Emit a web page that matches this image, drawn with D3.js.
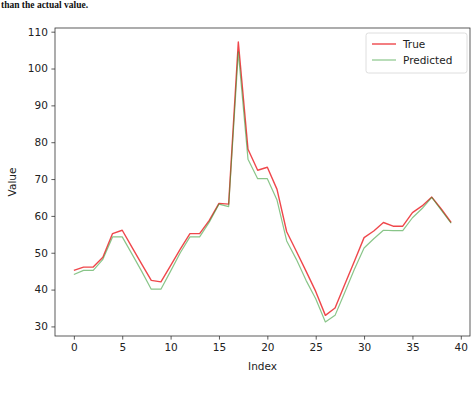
<!DOCTYPE html>
<html><head><meta charset="utf-8">
<script src="https://cdn.jsdelivr.net/npm/d3@7"></script>
<style>
html,body{margin:0;padding:0;background:#fff;}
svg{display:block;}
text{font-family:"DejaVu Sans",sans-serif;fill:#222;}
</style></head>
<body>
<svg id="chart" width="474" height="395"></svg>
<script>
const trueValues = [45.2, 46.1, 46.1, 48.8, 55.2, 56.1, 51.5, 47, 42.5, 42.1, 46.5, 51, 55.2, 55.2, 58.8, 63.4, 63.2, 107.2, 78.1, 72.4, 73.2, 67.2, 55.7, 50.4, 45, 39.5, 33, 35, 41.4, 47.7, 54.1, 55.9, 58.2, 57.2, 57.2, 60.9, 62.7, 65.1, 61.8, 58.2];
const predValues = [44.1, 45.2, 45.2, 48.2, 54.3, 54.3, 49.7, 45, 40.1, 40.1, 45, 50, 54.3, 54.3, 58.3, 63.2, 62.5, 104.5, 75.4, 70.1, 70.1, 64.3, 53.2, 48.2, 42.5, 37.5, 31.2, 33, 39.2, 45.5, 51.3, 53.8, 56.1, 56, 56, 59.5, 62, 65, 61.5, 58];
const xTicks = [0, 5, 10, 15, 20, 25, 30, 35, 40];
const yTicks = [30, 40, 50, 60, 70, 80, 90, 100, 110];
const seriesNames = ["True", "Predicted"];
const seriesColors = ["rgba(235,30,35,0.82)", "rgba(40,150,40,0.55)"];

const svg = d3.select("#chart");
const L = 55, R = 470, T = 28, B = 336;
const n = trueValues.length;
const x = d3.scaleLinear().domain([-0.05*(n-1), (n-1)*1.05]).range([L, R]);
const all = trueValues.concat(predValues);
const lo = d3.min(all), hi = d3.max(all), pad = (hi-lo)*0.05;
const y = d3.scaleLinear().domain([lo-pad, hi+pad]).range([B, T]);

// caption fragment at top (clipped in the source image)
svg.append("text").attr("x", 1).attr("y", 8)
  .style("font-family", "'Liberation Serif','DejaVu Serif',serif")
  .style("font-weight", "bold").style("font-size", "9.5px").style("fill", "#111")
  .text("than the actual value.");

const xAxis = d3.axisBottom(x).tickValues(xTicks).tickSize(3.6).tickPadding(3.5).tickFormat(d3.format("d"));
const yAxis = d3.axisLeft(y).tickValues(yTicks).tickSize(3.6).tickPadding(3.5).tickFormat(d3.format("d"));

const gx = svg.append("g").attr("transform", `translate(0,${B})`).call(xAxis);
const gy = svg.append("g").attr("transform", `translate(${L},0)`).call(yAxis);
[gx, gy].forEach(g => {
  g.select(".domain").remove();
  g.selectAll("line").attr("stroke", "#333").attr("stroke-width", 0.8);
  g.selectAll("text").style("font-size", "10.5px").style("fill", "#222").style("font-family", "'DejaVu Sans',sans-serif");
});

svg.append("rect").attr("x", L).attr("y", T).attr("width", R-L).attr("height", B-T)
  .attr("fill", "none").attr("stroke", "#333").attr("stroke-width", 0.8);

const line = d3.line().x((d,i) => x(i)).y(d => y(d));
[trueValues, predValues].forEach((vals, k) => {
  svg.append("path").datum(vals).attr("d", line).attr("fill", "none")
    .attr("stroke", seriesColors[k]).attr("stroke-width", k === 0 ? 1.4 : 1.2)
    .attr("stroke-linejoin", "round");
});

svg.append("text").attr("x", (L+R)/2).attr("y", 370).attr("text-anchor", "middle")
  .style("font-size", "10.5px").text("Index");
svg.append("text").attr("transform", `translate(16,${(T+B)/2}) rotate(-90)`).attr("text-anchor", "middle")
  .style("font-size", "10.5px").text("Value");

// legend
const lg = svg.append("g").attr("transform", "translate(366,33)");
lg.append("rect").attr("x", 0).attr("y", 0).attr("width", 101).attr("height", 40).attr("rx", 2.5)
  .attr("fill", "rgba(255,255,255,0.8)").attr("stroke", "#d5d5d5").attr("stroke-width", 0.8);
seriesNames.forEach((name, k) => {
  const yy = 11 + k*16;
  lg.append("line").attr("x1", 6).attr("x2", 30).attr("y1", yy).attr("y2", yy)
    .attr("stroke", seriesColors[k]).attr("stroke-width", k === 0 ? 1.4 : 1.2);
  lg.append("text").attr("x", 37).attr("y", yy + 3.7).style("font-size", "10.5px").text(name);
});
</script>
</body></html>
